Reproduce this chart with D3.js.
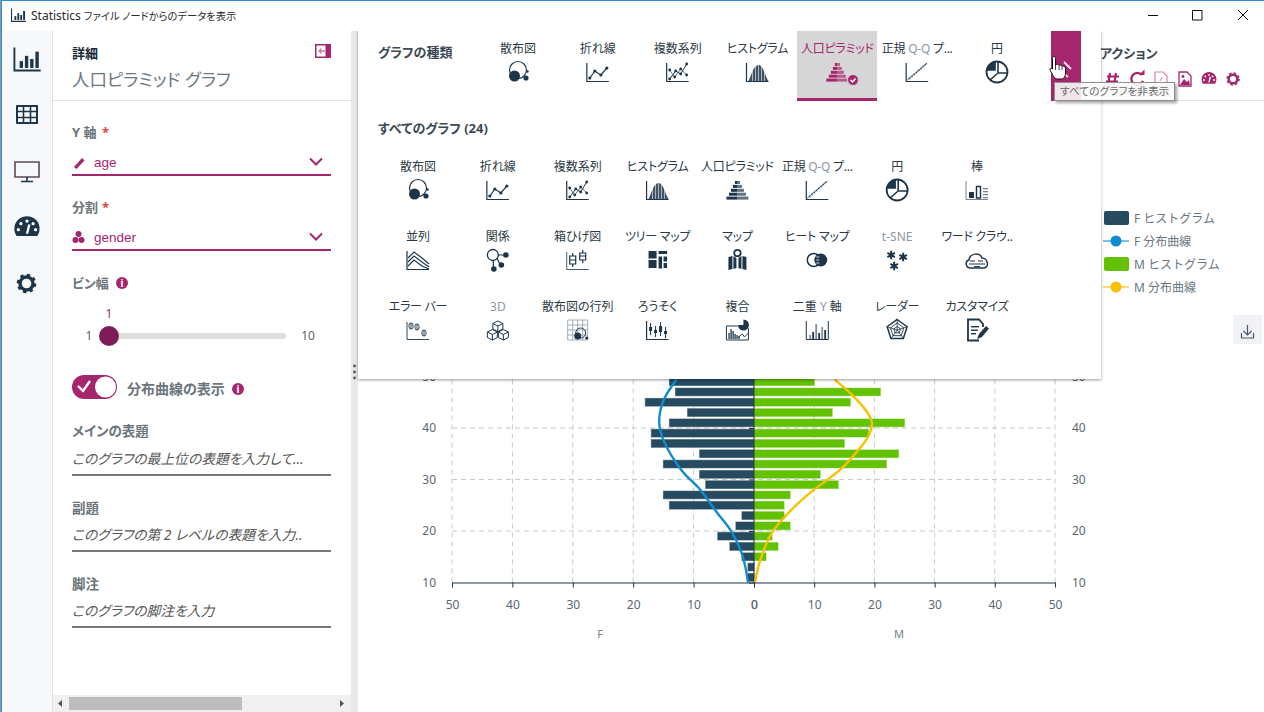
<!DOCTYPE html>
<html>
<head>
<meta charset="utf-8">
<script src="https://cdn.jsdelivr.net/npm/d3@7"></script>
<style>
  html, body { margin: 0; padding: 0; background: #fff; overflow: hidden; }
  svg { display: block; }
  text { font-family: "Noto Sans", "Noto Sans CJK JP", sans-serif; font-feature-settings: "palt"; }
</style>
</head>
<body>
<div class="canvas"></div>
<script>
// ---- chart data ----
const binAges = [11, 13, 15, 17, 19, 21, 23, 25, 27, 29, 31, 33, 35, 37, 39, 41, 43, 45, 47, 49];
const femaleCounts = [1, 1, 2, 4, 6, 3, 2, 14, 15, 8, 9, 15, 9, 17, 17, 14, 11, 18, 13, 14];
const maleCounts = [0, 0, 2, 4, 3, 6, 5, 5, 6, 14, 11, 22, 24, 15, 19, 25, 13, 16, 21, 10];

const femaleCurveAges = [10, 12.3, 15.9, 20.2, 23.7, 28, 31.8, 37.7, 41.1, 45.3, 49.4];
const femaleCurveValues = [1, 1.3, 2.1, 3.9, 6.2, 8.9, 12, 15, 15.7, 15, 12.8];
const maleCurveAges = [10, 13, 15.9, 19.5, 23, 27, 32.2, 36.1, 38.2, 41, 43.4, 46.3, 49.4];
const maleCurveValues = [0.2, 0.7, 1.5, 2.9, 5.3, 8.9, 14.6, 17.6, 18.9, 19.6, 18.6, 16.4, 13.4];

const xTicks = [0, 10, 20, 30, 40, 50];
const yTicks = [10, 20, 30, 40, 50];

const legendLabels = ["F ヒストグラム", "F 分布曲線", "M ヒストグラム", "M 分布曲線"];
const legendKinds = ["bar", "line", "bar", "line"];

// ---- ui text ----
const topTypes = ["散布図", "折れ線", "複数系列", "ヒストグラム", "人口ピラミッド", "正規 Q-Q プ...", "円"];
const topIcons = ["scatter", "line", "multi", "hist", "pyramid", "qq", "pie"];
const allRows = [
  ["散布図", "折れ線", "複数系列", "ヒストグラム", "人口ピラミッド", "正規 Q-Q プ...", "円", "棒"],
  ["並列", "関係", "箱ひげ図", "ツリー マップ", "マップ", "ヒート マップ", "t-SNE", "ワード クラウ.."],
  ["エラー バー", "3D", "散布図の行列", "ろうそく", "複合", "二重 Y 軸", "レーダー", "カスタマイズ"],
];
const allIcons = [
  ["scatter", "line", "multi", "hist", "pyramid", "qq", "pie", "bar"],
  ["parallel", "relation", "box", "treemap", "map", "heat", "tsne", "cloud"],
  ["error", "cubes", "matrix", "candle", "combo", "dual", "radar", "custom"],
];

const ink = "#1d3549";
const magenta = "#a6266e";
const grayText = "#5a6872";
const femaleColor = "#264a60";
const maleColor = "#62c200";
const femaleLine = "#0f8ccf";
const maleLine = "#f8c000";

const svg = d3.select(".canvas").append("svg").attr("width", 1264).attr("height", 712);

const defs = svg.append("defs");
const shadow = defs.append("filter").attr("id", "shadow").attr("x", "-5%").attr("y", "-5%").attr("width", "110%").attr("height", "112%");
shadow.append("feDropShadow").attr("dx", 0).attr("dy", 1).attr("stdDeviation", 1.5).attr("flood-color", "#000").attr("flood-opacity", 0.4);
const tipShadow = defs.append("filter").attr("id", "tipShadow").attr("x", "-5%").attr("y", "-20%").attr("width", "112%").attr("height", "160%");
tipShadow.append("feDropShadow").attr("dx", 2).attr("dy", 2).attr("stdDeviation", 1.5).attr("flood-color", "#000").attr("flood-opacity", 0.4);

const label = (g, x, y, str, o = {}) =>
  g.append("text")
    .attr("x", x)
    .attr("y", y)
    .attr("dy", "0.35em")
    .attr("text-anchor", o.anchor || "start")
    .attr("font-size", o.size || 12)
    .attr("font-weight", o.weight || 400)
    .attr("font-style", o.italic ? "italic" : null)
    .attr("fill", o.fill || grayText)
    .text(str);

const box = (g, x, y, w, h, fill) => g.append("rect").attr("x", x).attr("y", y).attr("width", w).attr("height", h).attr("fill", fill);

// ---- icon pieces, local coordinates around 0,0 ----
const S = (g, d, w = 1.2, op) =>
  g.append("path").attr("d", d).attr("fill", "none").attr("stroke", "currentColor").attr("stroke-width", w).attr("opacity", op === undefined ? null : op);
const F = (g, d, op) => g.append("path").attr("d", d).attr("fill", "currentColor").attr("opacity", op === undefined ? null : op);
const O = (g, x, y, r, w = 0) =>
  g.append("circle").attr("cx", x).attr("cy", y).attr("r", r)
    .attr("fill", w ? "none" : "currentColor")
    .attr("stroke", w ? "currentColor" : "none")
    .attr("stroke-width", w);
const B = (g, x, y, w, h, op) => g.append("rect").attr("x", x).attr("y", y).attr("width", w).attr("height", h).attr("fill", "currentColor").attr("opacity", op === undefined ? null : op);
const axesI = (g) => S(g, "M-11,-9V9.5H11", 1.2);
const gear = (g, r = 6) => {
  O(g, 0, 0, r, 3.4);
  g.append("circle").attr("r", r + 2).attr("fill", "none").attr("stroke", "currentColor").attr("stroke-width", 2.6)
    .attr("stroke-dasharray", `${(Math.PI * 2 * (r + 2)) / 16} ${(Math.PI * 2 * (r + 2)) / 16}`);
};
const gauge = (g) => {
  F(g, "M-9,7A11,11 0 1 1 9,7Z");
  g.selectAll("dots").data(d3.range(5)).join("circle")
    .attr("cx", (d) => 7.5 * Math.cos(Math.PI * (1 + d / 4)))
    .attr("cy", (d) => 1.5 + 7.5 * Math.sin(Math.PI * (1 + d / 4)))
    .attr("r", 1.4)
    .attr("fill", "#fff");
  g.append("path").attr("d", "M0,5L2,-3").attr("stroke", "#fff").attr("stroke-width", 2);
};

const icons = {
  scatter(g) {
    O(g, 0, -2, 8.5, 1.2);
    O(g, -3.5, 4, 5.5);
    O(g, 8, 6, 2.6);
    O(g, 9.5, -0.5, 1.2);
  },
  line(g) {
    axesI(g);
    S(g, "M-8,6L-3,-1L3,3L9,-4");
    [[-8, 6], [-3, -1], [3, 3], [9, -4]].forEach((p) => O(g, p[0], p[1], 1.6));
  },
  multi(g) {
    axesI(g);
    S(g, "M-8,7L-2,-1L3,2L9,-8", 1);
    S(g, "M-8,-2L-3,5L3,-3L9,3", 1, 0.7);
    [[-8, 7], [-2, -1], [3, 2], [9, -8], [-8, -2], [-3, 5], [3, -3], [9, 3]].forEach((p) => O(g, p[0], p[1], 1.4));
  },
  hist(g) {
    axesI(g);
    F(g, "M-9,9C-6,3 -4,-7 1,-7C6,-7 7,3 11,9Z", 0.85);
    d3.range(-5, 9, 3).forEach((x) => g.append("path").attr("d", `M${x},-8V9`).attr("stroke", "#fff").attr("stroke-width", 0.6));
  },
  pyramid(g) {
    [2.5, 4.5, 6.5, 8.5, 11].forEach((w, i) => {
      B(g, -w, -9 + i * 3.9, w, 3);
      B(g, 0, -9 + i * 3.9, w, 3, 0.7);
    });
  },
  qq(g) {
    axesI(g);
    S(g, "M-10,8L10,-9", 0.8);
    S(g, "M-8,7L9,-8", 2, 0.6).attr("stroke-dasharray", "1.5 1.5");
  },
  pie(g) {
    O(g, 0, 0, 10.5, 1.8);
    F(g, "M-1.2,-1.2V-10.5A10,10 0 0 0 -10.5,-1.2Z");
    S(g, "M1,-10V1H10.5M1,1L-7,8", 1.6);
  },
  bar(g) {
    S(g, "M-11,-9V9.5H11", 1, 0.6);
    B(g, -8, 2, 5, 6);
    S(g, "M-0.5,-3.5h4v11.5h-4z", 1.4);
    [-2, 1, 4, 7].forEach((y) => B(g, 6, y, 5, 1.3, 0.6));
  },
  bars(g) {
    S(g, "M-12,-11V11H13", 1.8);
    B(g, -7, 2, 3.2, 6.5);
    B(g, -2, -3, 3.2, 11.5);
    B(g, 3, 0, 3.2, 8.5);
    B(g, 8, -7, 3.2, 15.5);
  },
  parallel(g) {
    axesI(g);
    S(g, "M-10,-2L-4,-8L4,-2L11,4");
    S(g, "M-10,2L-4,-4L4,2L11,7");
    S(g, "M-10,6L-4,0L4,6L11,9");
  },
  relation(g) {
    O(g, -5, -5, 5.5, 1.3);
    O(g, 8, -5, 2.8);
    O(g, 3.5, 5, 2.8);
    O(g, -4, 9, 2.8);
    S(g, "M0,-5H6M-1,-2L2,4M-4.5,0V7");
  },
  box(g) {
    S(g, "M-11,-8V9.5H11", 1, 0.8);
    S(g, "M-8,-4h6v8h-6zM-8,0h6M-5,-7v3M-5,4v3");
    S(g, "M2,-7h6v7h-6zM2,-4h6M5,-10v3M5,0v3");
  },
  treemap(g) {
    B(g, -9, -9, 8, 7.5);
    B(g, -9, 0, 8, 8);
    B(g, 1, -9, 8.5, 3);
    B(g, 1, -3.5, 3.5, 12);
    B(g, 6, -3.5, 3.5, 5);
    B(g, 6, 3, 3.5, 5);
  },
  map(g) {
    F(g, "M-9,-3L-5,-4V9L-9,10ZM-4,-4L-1,-2V8L-4,9ZM1,-2L4,-4V9L1,8ZM5,-4L9,-3V10L5,9Z");
    O(g, 0, -7, 3.2, 1.8);
  },
  heat(g) {
    O(g, -3.5, 0, 6.5, 1.5);
    F(g, "M3.5,-6.5A6.5,6.5 0 0 1 3.5,6.5A6.5,6.5 0 0 1 3.5,-6.5Z");
    [-3, 0, 3].forEach((y) => g.append("path").attr("d", `M-1,${y}H2`).attr("stroke", "#fff").attr("stroke-width", 0.8));
  },
  tsne(g) {
    [[-6, -5], [6, -3], [-3, 6]].forEach((p) => {
      g.append("path")
        .attr("d", d3.range(3).map((i) => {
          const a = (Math.PI * i) / 3 + Math.PI / 6;
          const dx = 4.3 * Math.cos(a);
          const dy = 4.3 * Math.sin(a);
          return `M${p[0] - dx},${p[1] - dy}L${p[0] + dx},${p[1] + dy}`;
        }).join(""))
        .attr("stroke", "currentColor")
        .attr("stroke-width", 2);
    });
  },
  cloud(g) {
    S(g, "M-6,8C-12,8 -12,1 -8,0C-7,-7 3,-8 5,-2C11,-2 13,8 6,8Z", 1.5);
    S(g, "M-7,1H-2M1,1H6M-8,4H8M-3,6.5H3", 1);
  },
  error(g) {
    S(g, "M-11,-8V9.5H11", 1, 0.9);
    [[-7, -4], [-1, -3], [6, 3]].forEach((p) => S(g, `M${p[0]},${p[1] - 3}v6M${p[0] - 2},${p[1] - 1}a2,2 0 0 1 4,0v2a2,2 0 0 1 -4,0z`, 0.9));
  },
  cubes(g) {
    const cube = (x, y) => S(g, `M${x},${y - 5}l5,2.5v5.5l-5,2.5l-5,-2.5v-5.5zM${x - 5},${y - 2.5}l5,2.5l5,-2.5M${x},${y}v5.5`, 1);
    cube(0, -4);
    cube(-5.5, 4.5);
    cube(5.5, 4.5);
  },
  matrix(g) {
    g.append("g").attr("opacity", 0.45).call((h) => {
      d3.range(0, 5).forEach((i) => S(h, `M${-10 + i * 5},-10V10M-10,${-10 + i * 5}H10`, 0.9));
    });
    O(g, 3, 3, 5, 1);
    O(g, 0, 6, 3.5);
    O(g, 9, 8, 1.6);
  },
  candle(g) {
    axesI(g);
    [[-7, -3, 4], [-2, 0, 3], [3, -4, 6], [8, 1, 3]].forEach((p) => {
      S(g, `M${p[0]},${p[1] - 4}V${p[1] + p[2] + 4}`, 1);
      B(g, p[0] - 1.5, p[1], 3, p[2]);
    });
  },
  combo(g) {
    S(g, "M-11,-4H11V10H-11Z", 1);
    [-9, -7, -5, -3, -1, 1].forEach((x, i) => B(g, x, [3, -1, 1, 4, 5, 6][i], 1.3, 9 - [3, -1, 1, 4, 5, 6][i]));
    S(g, "M1,7L5,4L7,7L11,3", 0.9);
    g.append("circle").attr("cx", 6).attr("cy", -5).attr("r", 6).attr("fill", "#fff");
    F(g, "M6,-10.5A5.5,5.5 0 1 1 0.5,-5H6Z");
  },
  dual(g) {
    S(g, "M-11,-9V9.5H11V-9", 1);
    [[-8, 5], [-5, 2], [-2, -6], [1, 3], [4, -3], [7, 0]].forEach((p, i) => B(g, p[0], p[1], 1.8, 9 - p[1], i % 2 ? 1 : 0.55));
  },
  radar(g) {
    [10.5, 7, 3.5].forEach((r) => {
      const pts = d3.range(5).map((i) => {
        const a = -Math.PI / 2 + (i * 2 * Math.PI) / 5;
        return `${r * Math.cos(a)},${r * Math.sin(a)}`;
      });
      g.append("polygon").attr("points", pts.join(" ")).attr("fill", "none").attr("stroke", "currentColor").attr("stroke-width", r > 10 ? 1.5 : 0.9);
    });
    d3.range(5).forEach((i) => {
      const a = -Math.PI / 2 + (i * 2 * Math.PI) / 5;
      S(g, `M0,0L${10 * Math.cos(a)},${10 * Math.sin(a)}`, 0.8);
    });
  },
  custom(g) {
    S(g, "M2,10.5H-9V-10.5H2L6,-6V-3", 1.8);
    B(g, -6, -4, 8, 1.4);
    B(g, -6, -0.5, 7, 1.4);
    B(g, -6, 3, 5, 1.4);
    F(g, "M0,9L2,4L9,-4L12,-1.5L5,7Z");
  },
};

const drawIcon = (parent, name, x, y, color = ink, scale = 1) => {
  const g = parent.append("g").attr("transform", `translate(${x},${y}) scale(${scale})`).style("color", color);
  icons[name](g);
  return g;
};

// ---- chart, drawn first so the gallery panel covers its top ----
const chart = svg.append("g");

const xLeft = d3.scaleLinear().domain([50, 0]).range([452, 754]);
const xRight = d3.scaleLinear().domain([0, 50]).range([754, 1055]);
const y = d3.scaleLinear().domain([10, 50]).range([582.5, 376.5]);

const grid = chart.append("g").attr("stroke", "#c9c9c9").attr("stroke-dasharray", "5 4").attr("fill", "none");
grid.selectAll(".gy").data(yTicks.slice(1)).join("line").attr("class", "gy")
  .attr("x1", 452).attr("x2", 1055).attr("y1", (d) => y(d)).attr("y2", (d) => y(d));
grid.selectAll(".gl").data(xTicks).join("line").attr("class", "gl")
  .attr("x1", (d) => xLeft(d)).attr("x2", (d) => xLeft(d)).attr("y1", y(10)).attr("y2", y(50))
  .attr("display", (d) => (d === 0 ? "none" : null));
grid.selectAll(".gr").data(xTicks.slice(1)).join("line").attr("class", "gr")
  .attr("x1", (d) => xRight(d)).attr("x2", (d) => xRight(d)).attr("y1", y(10)).attr("y2", y(50));

// y axes, both sides
const styleAxis = (sel) => {
  sel.selectAll("text").attr("font-size", 12).attr("fill", grayText);
  sel.select(".domain").attr("stroke", "none");
  sel.selectAll("line").attr("stroke", "#c9c9c9");
};
chart.append("g").attr("transform", "translate(452,0)")
  .call(d3.axisLeft(y).tickValues(yTicks).tickSize(0).tickPadding(16))
  .call(styleAxis);
chart.append("g").attr("transform", "translate(1055,0)")
  .call(d3.axisRight(y).tickValues(yTicks).tickSize(0).tickPadding(17))
  .call(styleAxis);

// short ticks on the middle axis
chart.append("g").attr("transform", "translate(754,0)")
  .call(d3.axisLeft(y).tickValues(yTicks).tickSize(5).tickFormat(""))
  .call((g) => g.select(".domain").attr("stroke", "none"))
  .call((g) => g.selectAll("line").attr("stroke", ink));

const barRows = binAges.map((age, i) => ({ age, f: femaleCounts[i], m: maleCounts[i] }));
const barTop = (d) => y(d.age + 0.75);
const barH = (d) => y(d.age - 0.75) - y(d.age + 0.75);

chart.selectAll(".bar-f").data(barRows).join("rect").attr("class", "bar-f")
  .attr("x", (d) => xLeft(d.f))
  .attr("y", barTop)
  .attr("width", (d) => xLeft(0) - xLeft(d.f))
  .attr("height", barH)
  .attr("fill", femaleColor)
  .attr("stroke", femaleColor)
  .attr("stroke-opacity", 0.55);

chart.selectAll(".bar-m").data(barRows).join("rect").attr("class", "bar-m")
  .attr("x", xRight(0))
  .attr("y", barTop)
  .attr("width", (d) => xRight(d.m) - xRight(0))
  .attr("height", barH)
  .attr("fill", maleColor)
  .attr("stroke", maleColor)
  .attr("stroke-opacity", 0.45);

// middle axis line
chart.append("line").attr("x1", 754).attr("x2", 754).attr("y1", y(10)).attr("y2", y(50)).attr("stroke", ink);

const femalePath = d3.line().x((d) => xLeft(d[1])).y((d) => y(d[0])).curve(d3.curveCatmullRom);
const malePath = d3.line().x((d) => xRight(d[1])).y((d) => y(d[0])).curve(d3.curveCatmullRom);

chart.append("path").datum(d3.zip(femaleCurveAges, femaleCurveValues)).attr("d", femalePath)
  .attr("fill", "none").attr("stroke", femaleLine).attr("stroke-width", 2.4);
chart.append("path").datum(d3.zip(maleCurveAges, maleCurveValues)).attr("d", malePath)
  .attr("fill", "none").attr("stroke", maleLine).attr("stroke-width", 2.4);

// x axes
const xAxisStyle = (g) => {
  g.selectAll("text").attr("font-size", 12).attr("fill", grayText);
  g.selectAll("line").attr("stroke", ink);
  g.select(".domain").attr("stroke", ink);
};
chart.append("g").attr("transform", "translate(0,582.5)")
  .call(d3.axisBottom(xLeft).tickValues(xTicks).tickSize(5).tickSizeOuter(0).tickPadding(13))
  .call(xAxisStyle);
chart.append("g").attr("transform", "translate(0,582.5)")
  .call(d3.axisBottom(xRight).tickValues(xTicks).tickSize(5).tickSizeOuter(0).tickPadding(13))
  .call(xAxisStyle);

label(chart, 600, 634, "F", { anchor: "middle", size: 11, fill: "#77828b" });
label(chart, 899, 634, "M", { anchor: "middle", size: 11, fill: "#77828b" });

// legend
const legendColors = [femaleColor, femaleLine, maleColor, maleLine];
const legend = svg.append("g");
legendLabels.forEach((txt, i) => {
  const ly = 218 + i * 23;
  if (legendKinds[i] === "bar") {
    legend.append("rect").attr("x", 1104).attr("y", ly - 7).attr("width", 25).attr("height", 14).attr("rx", 2).attr("fill", legendColors[i]);
  } else {
    legend.append("line").attr("x1", 1103).attr("x2", 1129).attr("y1", ly).attr("y2", ly).attr("stroke", legendColors[i]).attr("stroke-width", 2).attr("stroke-opacity", 0.55);
    legend.append("circle").attr("cx", 1116).attr("cy", ly).attr("r", 5.5).attr("fill", legendColors[i]);
  }
  label(legend, 1134, ly + 1, txt, { fill: "#6a767f" }).style("font-feature-settings", "normal");
});

// download button
box(svg, 1233, 315, 29, 29, "#f0f2f6");
svg.append("g").attr("transform", "translate(1247.5,332)")
  .call((g) => g.append("path").attr("d", "M-6,1V6H6V1M0,-7V3M-4,-1L0,3L4,-1").attr("fill", "none").attr("stroke", "#48586a").attr("stroke-width", 1.2));

// ---- window chrome ----
box(svg, 0, 0, 1, 712, "#8b98a3");
box(svg, 1, 0, 1263, 1, "#2a8ad4");
box(svg, 1, 0, 1, 712, "#2a8ad4");

drawIcon(svg, "bars", 18.5, 15, ink, 0.58);
const titleText = label(svg, 31, 16, "Statistics ", { fill: "#2b2b2b", size: 12 });
titleText.append("tspan").attr("font-size", 10.3).text("ファイル ノードからのデータを表示");
svg.append("path").attr("d", "M1148,15.5H1158M1192.5,10.5H1202V20H1192.5ZM1238,10L1248,20M1248,10L1238,20")
  .attr("fill", "none").attr("stroke", "#111");

// nav rail
box(svg, 2, 31, 50, 681, "#f7f8fb");
box(svg, 52, 31, 1, 681, "#dfe3e6");
const rail = svg.append("g");
drawIcon(rail, "bars", 27, 59, ink, 1.05);
rail.append("g").attr("transform", "translate(27,114.5)").style("color", ink).call((g) => {
  S(g, "M-10,-8.5H10V8.5H-10Z", 2).attr("stroke-linejoin", "round");
  S(g, "M-10,-3H10M-10,3H10M-3.5,-8.5V8.5M3.5,-8.5V8.5", 1.6);
});
rail.append("g").attr("transform", "translate(27,171)").style("color", ink).call((g) => {
  S(g, "M-12,-9H12V6H-12Z", 1.6).attr("stroke", "#5a4a5a");
  S(g, "M0,6V10M-6,10.5H6", 1.6);
});
rail.append("g").attr("transform", "translate(27,228) scale(1.15)").style("color", ink).call(gauge);
rail.append("g").attr("transform", "translate(26.5,283.5)").style("color", ink).call((g) => gear(g, 6.5));

// sidebar
box(svg, 351, 31, 7, 681, "#e8e8e8");
box(svg, 53, 100, 298, 1, "#dfe3e6");
label(svg, 72, 53, "詳細", { size: 13, weight: 700, fill: "#1a2c3a" });
label(svg, 72, 80, "人口ピラミッド グラフ", { size: 17.5, fill: "#6c7780" });

// collapse button
box(svg, 315, 44, 16, 14, magenta);
box(svg, 316.5, 45.5, 9, 11, "#fff");
svg.append("path").attr("d", "M325,51H319M321.5,48.5L319,51L321.5,53.5").attr("fill", "none").attr("stroke", "#c77aa8").attr("stroke-width", 1.3);

const fieldLabel = (yy, txt, star) => {
  const t = label(svg, 72, yy, txt, { size: 13, weight: 700, fill: "#6b747b" });
  if (star) label(svg, 72 + star, yy, "*", { size: 13, weight: 700, fill: "#e0483a" });
  return t;
};
const chevron = (yy) =>
  svg.append("path").attr("d", `M310,${yy - 3.5}L316,${yy + 2.5}L322,${yy - 3.5}`).attr("fill", "none").attr("stroke", magenta).attr("stroke-width", 2);

fieldLabel(132, "Y 軸", 30);
svg.append("path").attr("d", "M74,167L82,158L84.5,160.5L76.5,169Z").attr("fill", magenta);
label(svg, 94, 162.5, "age", { size: 13.5, fill: magenta, weight: 500 }).style("font-family", "Liberation Sans");
chevron(162);
box(svg, 72, 174, 259, 2, magenta);

fieldLabel(207.5, "分割", 30);
svg.append("g").attr("fill", magenta).call((g) => {
  g.append("circle").attr("cx", 78.5).attr("cy", 234).attr("r", 3);
  g.append("circle").attr("cx", 75.5).attr("cy", 240).attr("r", 3);
  g.append("circle").attr("cx", 81.5).attr("cy", 240).attr("r", 3);
});
label(svg, 94, 237.5, "gender", { size: 13.5, fill: magenta, weight: 500 }).style("font-family", "Liberation Sans");
chevron(237);
box(svg, 72, 249, 259, 2, magenta);

const infoDot = (x, yy) => {
  svg.append("circle").attr("cx", x).attr("cy", yy).attr("r", 6).attr("fill", magenta);
  label(svg, x, yy, "i", { anchor: "middle", size: 10, weight: 700, fill: "#fff" });
};
label(svg, 72, 283, "ビン幅", { size: 13, weight: 700, fill: "#6b747b" });
infoDot(122, 283);

label(svg, 109, 314, "1", { anchor: "middle", size: 12, fill: magenta });
svg.append("rect").attr("x", 109).attr("y", 333).attr("width", 177).attr("height", 6).attr("rx", 3).attr("fill", "#dfdfdf");
svg.append("circle").attr("cx", 109).attr("cy", 336).attr("r", 10).attr("fill", "#7c1d5a");
label(svg, 89, 336, "1", { anchor: "middle", fill: "#5f5f5f" });
label(svg, 308, 336, "10", { anchor: "middle", fill: "#5f5f5f" });

svg.append("rect").attr("x", 72).attr("y", 375).attr("width", 45).attr("height", 24).attr("rx", 12).attr("fill", magenta);
svg.append("circle").attr("cx", 105.5).attr("cy", 387).attr("r", 10.5).attr("fill", "#fff");
svg.append("path").attr("d", "M78,386L83,391L90,381").attr("fill", "none").attr("stroke", "#fff").attr("stroke-width", 2.4);
label(svg, 127, 389, "分布曲線の表示", { size: 14, weight: 700, fill: "#6b747b" });
infoDot(238, 389);

const textField = (yTitle, title, placeholder, yLine) => {
  label(svg, 72, yTitle, title, { size: 13.5, weight: 700, fill: "#6b747b" });
  label(svg, 72, yLine - 15, placeholder, { size: 13.8, italic: true, fill: "#555" });
  box(svg, 72, yLine, 259, 2, "#777");
};
textField(431, "メインの表題", "このグラフの最上位の表題を入力して...", 474);
textField(508, "副題", "このグラフの第 2 レベルの表題を入力..", 550);
textField(584, "脚注", "このグラフの脚注を入力", 626);

// sidebar scrollbar
box(svg, 53, 695, 298, 17, "#f0f0f0");
box(svg, 69, 697, 173, 13, "#bdbdbd");
svg.append("path").attr("d", "M58,703.5L62,700V707ZM344,703.5L340,700V707Z").attr("fill", "#555");

// drag dots
svg.selectAll(".dragdot").data([366, 372, 378]).join("circle").attr("class", "dragdot")
  .attr("cx", 354.5).attr("cy", (d) => d).attr("r", 1.4).attr("fill", "#555");

// ---- gallery panel ----
svg.append("rect").attr("x", 358).attr("y", 31).attr("width", 743).attr("height", 348).attr("fill", "#fff").attr("filter", "url(#shadow)");
box(svg, 358, 20, 743, 12, "#fff");

box(svg, 1101, 100, 163, 1, "#dfe3e6");
box(svg, 1101, 100, 1, 110, "#e8e8e8");

const typeLabel = (g, x, yy, str, fill = "#2b3a45") => {
  const t = g.append("text").attr("x", x).attr("y", yy + 1.5).attr("dy", "0.35em").attr("text-anchor", "middle").attr("font-size", 12).attr("fill", fill)
    .attr("letter-spacing", /[ァ-ヶー]/.test(str) ? -0.25 : null);
  // latin runs look lighter in the reference
  str.split(/([A-Za-z0-9-]+)/).forEach((part) => {
    if (!part) return;
    const isLatin = /^[A-Za-z0-9-]+$/.test(part);
    t.append("tspan").attr("fill", isLatin && fill !== magenta ? "#8d979f" : null).text(part);
  });
};

label(svg, 378, 52, "グラフの種類", { size: 13, weight: 700, fill: "#3b4954" });
label(svg, 378, 128, "すべてのグラフ (24)", { size: 13, weight: 700, fill: "#3b4954" });

box(svg, 797, 31, 80, 70, "#d6d6d6");
box(svg, 797, 98, 80, 3, magenta);

const topX = d3.scalePoint().domain(d3.range(7)).range([518, 997]);
topTypes.forEach((name, i) => {
  const selected = name === "人口ピラミッド";
  typeLabel(svg, topX(i), 47.5, name, selected ? magenta : undefined);
  drawIcon(svg, topIcons[i], topX(i), 72, selected ? magenta : ink);
});
svg.append("circle").attr("cx", 853).attr("cy", 80).attr("r", 5.5).attr("fill", magenta).attr("stroke", "#d6d6d6");
svg.append("path").attr("d", "M850.5,80L852.5,82L855.5,78.5").attr("fill", "none").attr("stroke", "#fff").attr("stroke-width", 1.4);

const gridX = d3.scalePoint().domain(d3.range(8)).range([418, 977]);
const gridY = d3.scalePoint().domain(d3.range(3)).range([165, 305]);
allRows.forEach((row, r) => {
  row.forEach((name, c) => {
    typeLabel(svg, gridX(c), gridY(r), name);
    drawIcon(svg, allIcons[r][c], gridX(c), gridY(r) + 25);
  });
});

// actions
box(svg, 1051, 31, 30, 70, magenta);
svg.append("path").attr("d", "M1064,62L1071,69M1060,70L1068,77").attr("stroke", "#f4d9e8").attr("stroke-width", 2);
label(svg, 1100, 53, "アクション", { size: 13, weight: 700, fill: "#3b4954" });

const actions = svg.append("g").style("color", magenta);
actions.append("g").attr("transform", "translate(1113,79)").call((g) => S(g, "M-3,-6L-5,6M3,-6L1,6M-6,-2.5H6M-7,2.5H5", 2.2));
actions.append("g").attr("transform", "translate(1137,79)").call((g) => {
  S(g, "M5,-4A6,6 0 1 0 6,2", 2.4);
  F(g, "M2,-4H7.5V-9.5Z");
});
actions.append("g").attr("transform", "translate(1161,79)").call((g) => {
  S(g, "M-6,7V-7H2L6,-3V7Z", 1.2, 0.55);
  S(g, "M-1,2L1,-2", 1, 0.55);
});
actions.append("g").attr("transform", "translate(1185,79)").call((g) => {
  S(g, "M-6,7V-7H2L6,-3V7Z", 1.3);
  F(g, "M-5,6L-1,0L2,3L4,1L5,6Z");
  O(g, -2, -2.5, 1.4);
});
actions.append("g").attr("transform", "translate(1209,79) scale(0.68)").call(gauge);
actions.append("g").attr("transform", "translate(1233,79) scale(0.72)").call((g) => gear(g, 6));

// tooltip + cursor
svg.append("rect").attr("x", 1054.5).attr("y", 82.5).attr("width", 120).attr("height", 18)
  .attr("fill", "#fff").attr("fill-opacity", 0.86).attr("stroke", "#8e8e8e").attr("filter", "url(#tipShadow)");
label(svg, 1060, 91.5, "すべてのグラフを非表示", { size: 10.7, fill: "#6b6b6b" });

svg.append("g").attr("transform", "translate(1049.5,56)").call((g) => {
  g.append("path")
    .attr("d", "M4,0.5C5.5,0.5 6,1.5 6,2.5V9C7,8 9,8 9.5,9.5C10.5,8.5 12,8.8 12.5,10.5C13.5,9.5 15.5,10 16,12V17C16,20 14.5,23 12,23H8C6,23 5,22 4,20.5L0.5,14C0,12.5 1.5,11.5 3,13V2.5C3,1.5 3,0.5 4,0.5Z")
    .attr("fill", "#fff").attr("stroke", "#111").attr("stroke-width", 1);
  g.append("path").attr("d", "M6,9V14M9.5,10V14M12.5,11V14").attr("stroke", "#111").attr("stroke-width", 0.8);
});
</script>
</body>
</html>
